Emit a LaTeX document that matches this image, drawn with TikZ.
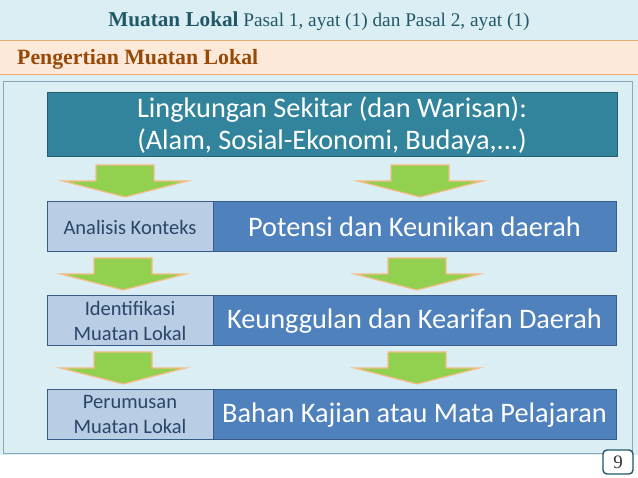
\documentclass[tikz,border=0pt]{standalone}
\usepackage{fontspec}
\setmainfont{Carlito}
\newfontfamily\titleserif{Liberation Serif}
\definecolor{slidebg}{HTML}{DBEEF4}
\definecolor{titleteal}{HTML}{215868}
\definecolor{bandfill}{HTML}{FDE9D9}
\definecolor{bandline}{HTML}{EDAA6E}
\definecolor{bandtext}{HTML}{984807}
\definecolor{innerline}{HTML}{8AA8B6}
\definecolor{tealbox}{HTML}{31849B}
\definecolor{tealedge}{HTML}{235F70}
\definecolor{lightbox}{HTML}{B9CDE5}
\definecolor{bluebox}{HTML}{4F81BD}
\definecolor{blueedge}{HTML}{385D8A}
\definecolor{lighttext}{HTML}{2A4565}
\definecolor{arrowgreen}{HTML}{92D050}
\definecolor{arroworange}{HTML}{F7BC86}
\tikzset{
  topbox/.style={draw=tealedge, fill=tealbox, line width=1pt, text=white, align=center, inner sep=0pt},
  labelbox/.style={draw=blueedge, fill=lightbox, line width=1pt, text=lighttext, align=center, inner sep=0pt, minimum width=166, minimum height=50, font=\fontsize{20.5}{25}\selectfont},
  mainbox/.style={draw=blueedge, fill=bluebox, line width=1pt, text=white, align=center, inner sep=0pt, minimum width=403, minimum height=50, font=\fontsize{28.3}{32}\selectfont},
  greenarrow/.pic={\path[fill=arrowgreen, draw=arroworange, line width=1.2pt, line join=miter]
     (-29,0) -- (29,0) -- (29,16) -- (62.5,16) -- (0,32) -- (-62.5,16) -- (-29,16) -- cycle;}
}
\begin{document}
\begin{tikzpicture}[x=1pt,y=-1pt]
\useasboundingbox (0,0) rectangle (638,478);
% slide background
\fill[slidebg] (0,0) rectangle (638,478);
\fill[white] (0,455) rectangle (638,478);
% title
\node (title) at (319,21) {\titleserif\color{titleteal}\fontsize{19.3}{22}\selectfont{\fontsize{21.2}{24}\selectfont\bfseries Muatan Lokal}\ Pasal 1, ayat (1) dan Pasal 2, ayat (1)};
% orange band
\node (band) [draw=bandline, fill=bandfill, line width=1pt, minimum width=640, minimum height=34, inner sep=0pt] at (319,58) {};
\node (bandtxt) [anchor=west, text=bandtext, font=\titleserif\bfseries\fontsize{21.8}{24}\selectfont, inner sep=0pt] at (17,59) {Pengertian Muatan Lokal};
% inner panel
\node (panel) [draw=innerline, fill=slidebg, line width=0.8pt, minimum width=629, minimum height=372, inner sep=0pt] at (317.5,267) {};
% top box
\node (env) [topbox, minimum width=570, minimum height=64, font=\fontsize{28.3}{32}\selectfont] at (332,125) {Lingkungan Sekitar (dan Warisan):\\(Alam, Sosial-Ekonomi, Budaya,...)};
% rows
\node (l1) [labelbox] at (130,227) {Analisis Konteks};
\node (r1) [mainbox] at (414.5,227) {Potensi dan Keunikan daerah};
\node (l2) [labelbox] at (130,321) {Identifikasi\\Muatan Lokal};
\node (r2) [mainbox] at (414.5,321) {Keunggulan dan Kearifan Daerah};
\node (l3) [labelbox] at (130,415) {Perumusan\\Muatan Lokal};
\node (r3) [mainbox] at (414.5,415) {Bahan Kajian atau Mata Pelajaran};
% arrows
\pic at (125,165) {greenarrow};
\pic at (420,165) {greenarrow};
\pic at (123,258) {greenarrow};
\pic at (417,258) {greenarrow};
\pic at (123,352) {greenarrow};
\pic at (417,352) {greenarrow};
% page number
\node (pnum) [draw=titleteal, fill=white, line width=1.4pt, rounded corners=4pt, minimum width=30, minimum height=24, inner sep=0pt, font=\titleserif\fontsize{19}{22}\selectfont, text=black!80] at (618,462) {9};
\end{tikzpicture}
\end{document}
